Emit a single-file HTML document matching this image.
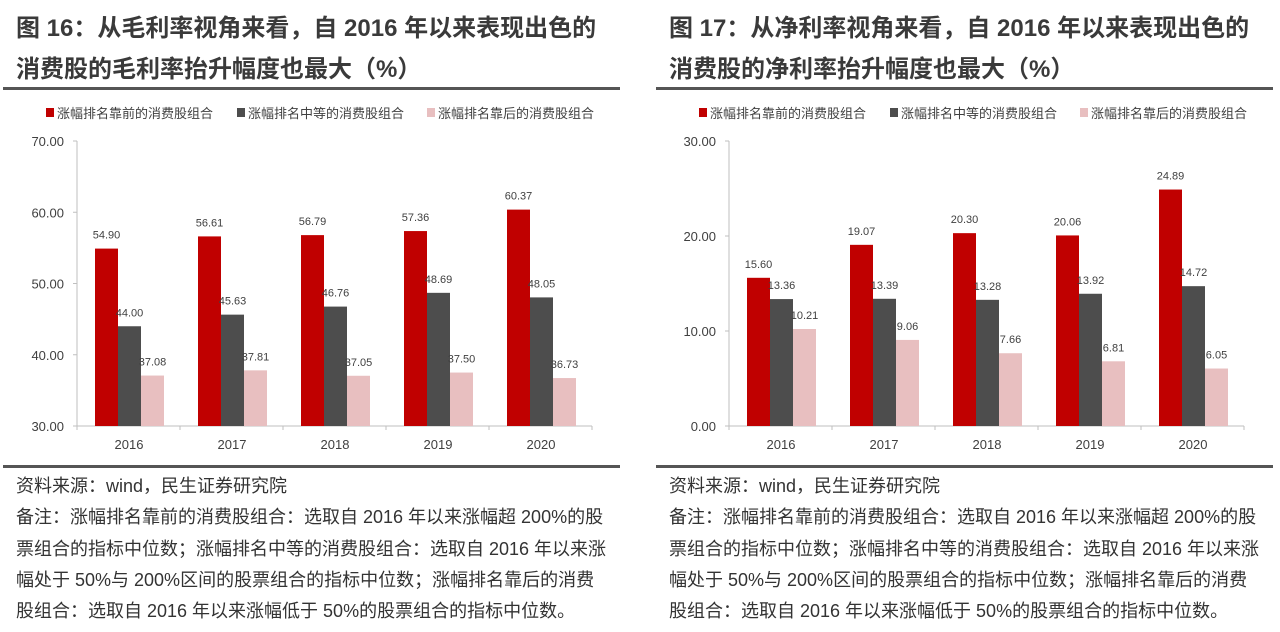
<!DOCTYPE html><html><head><meta charset="utf-8"><style>
html,body{margin:0;padding:0;background:#fff;}
svg{display:block;font-family:"Liberation Sans","Noto Sans CJK SC",sans-serif;}
.t{font-size:24px;font-weight:bold;fill:#3a3a3a;}
.n{font-size:18px;fill:#333;}
.lg{font-size:13px;fill:#404040;}
.ax{font-size:13px;fill:#404040;}
.v{font-size:11px;fill:#404040;}
</style></head><body>
<svg id="s" width="1280" height="632" xmlns="http://www.w3.org/2000/svg">
<text class="t" x="16" y="36">图 16：从毛利率视角来看，自 2016 年以来表现出色的</text>
<text class="t" x="16" y="77">消费股的毛利率抬升幅度也最大（%）</text>
<rect x="3" y="87" width="617" height="3" fill="#555"/>
<text class="t" x="669" y="36">图 17：从净利率视角来看，自 2016 年以来表现出色的</text>
<text class="t" x="669" y="77">消费股的净利率抬升幅度也最大（%）</text>
<rect x="656" y="87" width="617" height="3" fill="#555"/>
<rect x="46" y="108" width="8" height="9" fill="#C00000"/><text class="lg" x="57" y="118">涨幅排名靠前的消费股组合</text>
<rect x="237" y="108" width="8" height="9" fill="#4D4D4D"/><text class="lg" x="248" y="118">涨幅排名中等的消费股组合</text>
<rect x="427" y="108" width="8" height="9" fill="#E8BFC0"/><text class="lg" x="438" y="118">涨幅排名靠后的消费股组合</text>
<rect x="699" y="108" width="8" height="9" fill="#C00000"/><text class="lg" x="710" y="118">涨幅排名靠前的消费股组合</text>
<rect x="890" y="108" width="8" height="9" fill="#4D4D4D"/><text class="lg" x="901" y="118">涨幅排名中等的消费股组合</text>
<rect x="1080" y="108" width="8" height="9" fill="#E8BFC0"/><text class="lg" x="1091" y="118">涨幅排名靠后的消费股组合</text>
<g id="c1"></g><g id="c2"></g>
<rect x="3" y="465" width="617" height="3" fill="#555"/>
<rect x="656" y="465" width="617" height="3" fill="#555"/>
<text class="n" x="16" y="492">资料来源：wind，民生证券研究院</text>
<text class="n" x="16" y="523">备注：涨幅排名靠前的消费股组合：选取自 2016 年以来涨幅超 200%的股</text>
<text class="n" x="16" y="555">票组合的指标中位数；涨幅排名中等的消费股组合：选取自 2016 年以来涨</text>
<text class="n" x="16" y="586">幅处于 50%与 200%区间的股票组合的指标中位数；涨幅排名靠后的消费</text>
<text class="n" x="16" y="617">股组合：选取自 2016 年以来涨幅低于 50%的股票组合的指标中位数。</text>
<text class="n" x="669" y="492">资料来源：wind，民生证券研究院</text>
<text class="n" x="669" y="523">备注：涨幅排名靠前的消费股组合：选取自 2016 年以来涨幅超 200%的股</text>
<text class="n" x="669" y="555">票组合的指标中位数；涨幅排名中等的消费股组合：选取自 2016 年以来涨</text>
<text class="n" x="669" y="586">幅处于 50%与 200%区间的股票组合的指标中位数；涨幅排名靠后的消费</text>
<text class="n" x="669" y="617">股组合：选取自 2016 年以来涨幅低于 50%的股票组合的指标中位数。</text>
</svg>
<script>
function build(id,ox,min,max,step,data){
  var g=document.getElementById(id),h='';
  var top=141,bot=426,ax=ox+77,end=ox+592;
  var Y=function(v){return bot-(v-min)/(max-min)*(bot-top);};
  h+='<line x1="'+ax+'" y1="'+top+'" x2="'+ax+'" y2="'+bot+'" stroke="#bfbfbf"/>';
  h+='<line x1="'+ax+'" y1="'+bot+'" x2="'+end+'" y2="'+bot+'" stroke="#bfbfbf"/>';
  for(var v=min;v<=max+1e-9;v+=step){var y=Y(v);
    h+='<line x1="'+(ax-4)+'" y1="'+y+'" x2="'+ax+'" y2="'+y+'" stroke="#bfbfbf"/>';
    h+='<text class="ax" x="'+(ax-13)+'" y="'+(y+5)+'" text-anchor="end">'+v.toFixed(2)+'</text>';}
  var cols=['#C00000','#4D4D4D','#E8BFC0'];
  for(var i=0;i<=5;i++){var x=ax+103*i;h+='<line x1="'+x+'" y1="'+bot+'" x2="'+x+'" y2="'+(bot+4)+'" stroke="#bfbfbf"/>';}
  for(var i=0;i<5;i++){var cx=ox+129+103*i;
    h+='<text class="ax" x="'+cx+'" y="'+(bot+23)+'" text-anchor="middle">'+(2016+i)+'</text>';
    for(var k=0;k<3;k++){var v=data[k][i],x=cx-34+k*23,y=Y(v);
      h+='<rect x="'+x+'" y="'+y+'" width="23" height="'+(bot-y)+'" fill="'+cols[k]+'"/>';
      h+='<text class="v" x="'+(x+11.5)+'" y="'+(y-10)+'" text-anchor="middle">'+v.toFixed(2)+'</text>';}}
  g.innerHTML=h;
}
build('c1',0,30,70,10,[[54.90,56.61,56.79,57.36,60.37],[44.00,45.63,46.76,48.69,48.05],[37.08,37.81,37.05,37.50,36.73]]);
build('c2',652,0,30,10,[[15.60,19.07,20.30,20.06,24.89],[13.36,13.39,13.28,13.92,14.72],[10.21,9.06,7.66,6.81,6.05]]);
</script>
</body></html>
